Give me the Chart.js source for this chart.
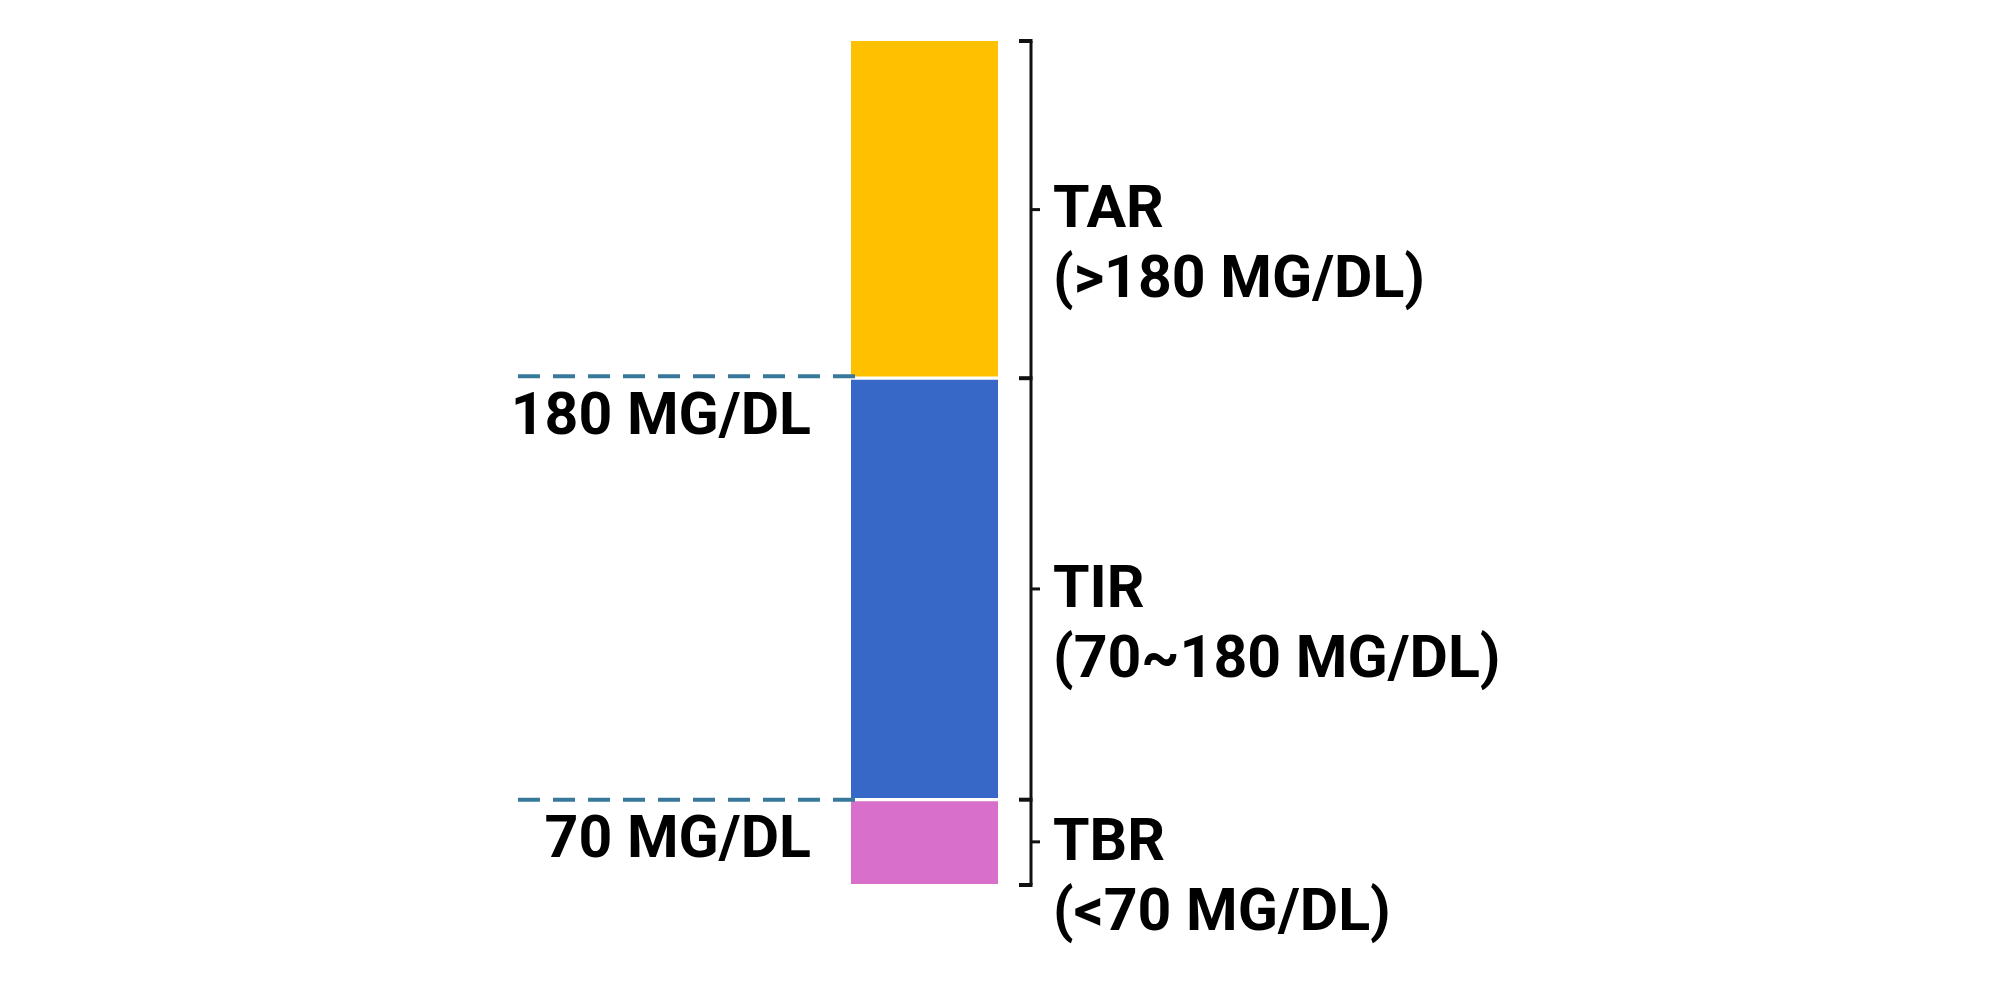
<!DOCTYPE html>
<html>
<head>
<meta charset="utf-8">
<script src="https://cdn.jsdelivr.net/npm/chart.js@4"></script>
<style>
  html, body { margin: 0; padding: 0; background: #fff; }
  #wrap { width: 2000px; height: 1000px; }
</style>
</head>
<body>
<div id="wrap"><canvas id="chartGlucose"></canvas></div>
<script>
const categories = ["CGM"];
const segmentNames = ["TBR", "TIR", "TAR"];
const segmentRanges = ["(<70 MG/DL)", "(70~180 MG/DL)", "(>180 MG/DL)"];
const segmentValues = [10, 50, 40];
const thresholdLabels = ["70 MG/DL", "180 MG/DL"];

const segmentColors = ["#d76fcb", "#3868c7", "#ffc000"];
const dashColor = "#38789b";
const textFont = "bold 59px Roboto";

const ctx_glucose = document.getElementById("chartGlucose");

// white gaps between segments
const gapBorders = [
  { top: 2, bottom: 0, left: 0, right: 0 },
  { top: 2, bottom: 2, left: 0, right: 0 },
  { top: 0, bottom: 2, left: 0, right: 0 },
];

const annotations = {
  id: "annotations",
  afterDatasetsDraw(chart) {
    const c = chart.ctx;
    const y = chart.scales.y;
    const bar = chart.getDatasetMeta(0).data[0];
    const barLeft = bar.x - bar.width / 2;
    const barRight = bar.x + bar.width / 2;

    // cumulative edges of the segments
    const edges = [0];
    segmentValues.forEach((v, i) => edges.push(edges[i] + v));
    const px = edges.map((v) => y.getPixelForValue(v));

    c.save();

    // dashed threshold lines + labels
    c.strokeStyle = dashColor;
    c.lineWidth = 4;
    c.setLineDash([22, 13]);
    c.font = textFont;
    c.fillStyle = "#000";
    c.textAlign = "right";
    c.textBaseline = "middle";
    thresholdLabels.forEach((label, i) => {
      const ly = px[i + 1] - (i === 0 ? 0 : 2);
      c.beginPath();
      c.moveTo(518, ly);
      c.lineTo(barLeft + 7, ly);
      c.stroke();
      c.fillText(label, barLeft - 40, ly + 43);
    });
    c.setLineDash([]);

    // brackets: one vertical line, hooks at every edge, ticks at midpoints
    const bx = barRight + 33;
    c.strokeStyle = "#111";
    c.lineWidth = 3;
    c.beginPath();
    c.moveTo(bx, px[px.length - 1]);
    c.lineTo(bx, px[0] + 1);
    c.stroke();
    c.lineWidth = 4;
    px.forEach((p, i) => {
      const hy = i === 0 ? p + 1 : p;
      c.beginPath();
      c.moveTo(bx - 12, hy);
      c.lineTo(bx + 1.5, hy);
      c.stroke();
    });
    c.lineWidth = 3;
    c.textAlign = "left";
    segmentValues.forEach((v, i) => {
      const mid = (px[i] + px[i + 1]) / 2;
      c.beginPath();
      c.moveTo(bx, mid);
      c.lineTo(bx + 9, mid);
      c.stroke();
      c.fillText(segmentNames[i], bx + 22, mid + 3);
      c.fillText(segmentRanges[i], bx + 22, mid + 73);
    });

    c.restore();
  },
};

new Chart(ctx_glucose, {
  type: "bar",
  data: {
    labels: categories,
    datasets: segmentNames.map((name, i) => ({
      label: name,
      data: [segmentValues[i]],
      backgroundColor: segmentColors[i],
      borderColor: "#ffffff",
      borderWidth: gapBorders[i],
      borderSkipped: false,
      barThickness: 147,
    })),
  },
  options: {
    responsive: true,
    maintainAspectRatio: false,
    animation: false,
    layout: {
      padding: { top: 41, bottom: 116, left: 700, right: 851 },
    },
    plugins: {
      legend: { display: false },
      tooltip: { enabled: false },
    },
    scales: {
      x: { stacked: true, display: false },
      y: { stacked: true, display: false, min: 0, max: 100 },
    },
  },
  plugins: [annotations],
});
</script>
</body>
</html>
